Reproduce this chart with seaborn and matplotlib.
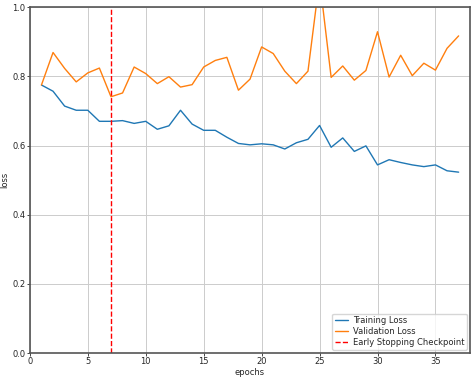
import numpy as np
import pandas as pd
import seaborn as sns
import matplotlib.pyplot as plt

# loss per epoch
epochs = list(range(1, 38))
train_loss = [0.775, 0.757, 0.714, 0.702, 0.702, 0.670, 0.670, 0.672, 0.664, 0.670,
              0.647, 0.657, 0.702, 0.662, 0.644, 0.644, 0.624, 0.606, 0.602, 0.605,
              0.602, 0.590, 0.608, 0.618, 0.658, 0.595, 0.622, 0.583, 0.599, 0.544,
              0.559, 0.551, 0.544, 0.539, 0.544, 0.527, 0.523]
val_loss = [0.775, 0.869, 0.823, 0.784, 0.810, 0.824, 0.741, 0.752, 0.827, 0.808,
            0.779, 0.799, 0.769, 0.776, 0.827, 0.846, 0.855, 0.760, 0.792, 0.885,
            0.866, 0.815, 0.779, 0.815, 1.080, 0.797, 0.830, 0.789, 0.817, 0.929,
            0.798, 0.861, 0.802, 0.838, 0.818, 0.881, 0.917]
checkpoint = 7

sns.set_style('whitegrid', {'axes.edgecolor': '#555555', 'grid.color': '#cccccc'})
plt.rcParams['font.family'] = ['DejaVu Sans']

df = pd.DataFrame({'epoch': epochs + epochs,
                   'loss': train_loss + val_loss,
                   'kind': ['Training Loss'] * len(epochs) + ['Validation Loss'] * len(epochs)})

fig, ax = plt.subplots(figsize=(4.74, 3.78), dpi=100)
sns.lineplot(data=df, x='epoch', y='loss', hue='kind', palette=['#1f77b4', '#ff7f0e'],
             linewidth=1.0, ax=ax)
ax.axvline(checkpoint, color='r', linestyle='--', linewidth=1.0, label='Early Stopping Checkpoint')

ax.set_xlim(0, 38)
ax.set_ylim(0, 1)
ax.set_xticks(np.arange(0, 36, 5))
ax.set_yticks(np.arange(0, 1.01, 0.2))
ax.set_xlabel('epochs', fontsize=6, labelpad=1)
ax.set_ylabel('loss', fontsize=6, labelpad=2)
ax.tick_params(labelsize=6, length=2, width=0.6, pad=1, bottom=True, left=True)
for s in ax.spines.values():
    s.set_linewidth(1.2)
ax.grid(True, linewidth=0.7)

ax.legend(loc='lower right', fontsize=6, frameon=True, handlelength=1.6,
          labelspacing=0.25, borderpad=0.3, handletextpad=0.6, borderaxespad=0.4)
fig.subplots_adjust(left=0.063, right=0.992, top=0.981, bottom=0.066)
fig.savefig('out.png', dpi=100)
